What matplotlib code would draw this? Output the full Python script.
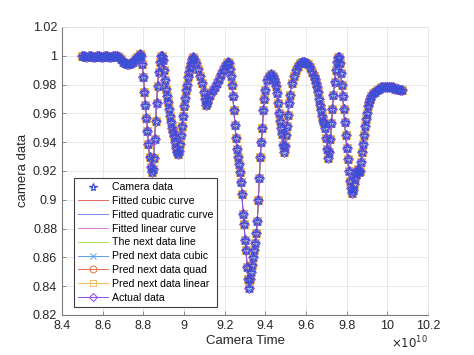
import matplotlib
matplotlib.use("Agg")
import matplotlib.pyplot as plt
from matplotlib.ticker import MultipleLocator, FuncFormatter

plt.rcParams["font.family"] = ["Liberation Sans", "DejaVu Sans"]

# camera time, in units of 1e10
cam_t = [
    8.50, 8.51, 8.52, 8.53, 8.54, 8.55, 8.56, 8.57, 8.58, 8.59,
    8.60, 8.61, 8.62, 8.63, 8.64, 8.65, 8.66, 8.67, 8.68, 8.69,
    8.70, 8.71, 8.72, 8.73, 8.74, 8.75, 8.76, 8.77, 8.78, 8.785,
    8.79, 8.795, 8.80, 8.805, 8.81, 8.815, 8.82, 8.825, 8.83, 8.835,
    8.84, 8.845, 8.85, 8.855, 8.86, 8.865, 8.87, 8.875, 8.88, 8.885,
    8.89, 8.895, 8.90, 8.905, 8.91, 8.915, 8.92, 8.925, 8.93, 8.935,
    8.94, 8.945, 8.95, 8.955, 8.96, 8.965, 8.97, 8.975, 8.98, 8.985,
    8.99, 8.995, 9.00, 9.005, 9.01, 9.015, 9.02, 9.025, 9.03, 9.035,
    9.04, 9.045, 9.05, 9.06, 9.07, 9.08, 9.09, 9.10, 9.105, 9.11,
    9.115, 9.12, 9.13, 9.14, 9.15, 9.16, 9.17, 9.18, 9.19, 9.20,
    9.21, 9.215, 9.22, 9.225, 9.23, 9.235, 9.24, 9.245, 9.25, 9.255,
    9.26, 9.265, 9.27, 9.275, 9.28, 9.285, 9.29, 9.295, 9.30, 9.305,
    9.31, 9.315, 9.32, 9.325, 9.33, 9.335, 9.34, 9.345, 9.35, 9.355,
    9.36, 9.365, 9.37, 9.375, 9.38, 9.385, 9.39, 9.395, 9.40, 9.41,
    9.42, 9.43, 9.435, 9.44, 9.445, 9.45, 9.455, 9.46, 9.465, 9.47,
    9.475, 9.48, 9.485, 9.49, 9.495, 9.50, 9.505, 9.51, 9.515, 9.52,
    9.53, 9.54, 9.55, 9.56, 9.57, 9.58, 9.59, 9.60, 9.61, 9.62,
    9.63, 9.64, 9.645, 9.65, 9.655, 9.66, 9.665, 9.67, 9.675, 9.68,
    9.685, 9.69, 9.695, 9.70, 9.705, 9.71, 9.715, 9.72, 9.725, 9.73,
    9.735, 9.74, 9.745, 9.75, 9.755, 9.76, 9.765, 9.77, 9.775, 9.78,
    9.785, 9.79, 9.795, 9.80, 9.805, 9.81, 9.815, 9.82, 9.825, 9.83,
    9.835, 9.84, 9.845, 9.85, 9.855, 9.86, 9.865, 9.87, 9.875, 9.88,
    9.885, 9.89, 9.895, 9.90, 9.905, 9.91, 9.915, 9.92, 9.93, 9.94,
    9.95, 9.96, 9.97, 9.98, 9.99, 10.00, 10.01, 10.02, 10.03, 10.04,
    10.05, 10.06, 10.07,
]
cam_v = [
    1.000, 1.000, 0.999, 1.000, 1.000, 0.999, 0.999, 1.000, 1.000, 0.999,
    0.999, 1.000, 1.000, 0.999, 0.999, 1.000, 1.000, 1.000, 0.999, 0.998,
    0.996, 0.995, 0.994, 0.994, 0.995, 0.996, 0.998, 0.999, 1.000, 1.001,
    1.000, 0.994, 0.985, 0.975, 0.966, 0.957, 0.948, 0.939, 0.930, 0.923,
    0.919, 0.921, 0.929, 0.942, 0.955, 0.967, 0.979, 0.989, 0.996, 1.000,
    1.000, 0.997, 0.990, 0.983, 0.977, 0.972, 0.968, 0.963, 0.958, 0.954,
    0.950, 0.947, 0.944, 0.940, 0.936, 0.933, 0.932, 0.934, 0.939, 0.945,
    0.951, 0.958, 0.965, 0.971, 0.976, 0.980, 0.985, 0.989, 0.992, 0.995,
    0.998, 0.999, 0.998, 0.995, 0.991, 0.986, 0.981, 0.975, 0.970, 0.966,
    0.967, 0.970, 0.973, 0.976, 0.978, 0.981, 0.984, 0.987, 0.990, 0.993,
    0.995, 0.996, 0.995, 0.991, 0.986, 0.980, 0.972, 0.962, 0.952, 0.943,
    0.935, 0.930, 0.925, 0.919, 0.912, 0.904, 0.890, 0.883, 0.872, 0.865,
    0.853, 0.845, 0.839, 0.845, 0.850, 0.855, 0.860, 0.865, 0.870, 0.877,
    0.885, 0.900, 0.915, 0.930, 0.940, 0.950, 0.962, 0.970, 0.976, 0.983,
    0.986, 0.987, 0.986, 0.984, 0.982, 0.979, 0.974, 0.967, 0.960, 0.955,
    0.950, 0.946, 0.938, 0.933, 0.937, 0.945, 0.951, 0.959, 0.967, 0.973,
    0.981, 0.986, 0.990, 0.993, 0.995, 0.996, 0.996, 0.995, 0.994, 0.992,
    0.989, 0.986, 0.984, 0.981, 0.978, 0.975, 0.970, 0.966, 0.962, 0.958,
    0.955, 0.953, 0.950, 0.943, 0.935, 0.929, 0.933, 0.942, 0.953, 0.963,
    0.973, 0.982, 0.990, 0.996, 0.999, 0.999, 0.995, 0.988, 0.980, 0.972,
    0.963, 0.954, 0.945, 0.936, 0.928, 0.920, 0.913, 0.908, 0.905, 0.907,
    0.911, 0.915, 0.918, 0.920, 0.921, 0.919, 0.920, 0.926, 0.933, 0.939,
    0.945, 0.951, 0.956, 0.960, 0.965, 0.968, 0.970, 0.972, 0.974, 0.975,
    0.976, 0.977, 0.978, 0.978, 0.978, 0.978, 0.978, 0.978, 0.978, 0.977,
    0.977, 0.976, 0.976,
]

fig, ax = plt.subplots(figsize=(4.74, 3.55), dpi=100)
fig.subplots_adjust(left=0.131, right=0.903, top=0.924, bottom=0.113)

lw = 0.7
ms = 5.5
h_cam, = ax.plot(cam_t, cam_v, ls="none", marker="*", ms=ms + 1, mfc="none",
                 mec="#3a4fd6", mew=0.9, label="Camera data", zorder=6)
h_cub, = ax.plot(cam_t, cam_v, color="#e0665a", lw=lw, label="Fitted cubic curve")
h_quad, = ax.plot(cam_t, cam_v, color="#7686e6", lw=lw, label="Fitted quadratic curve")
h_lin, = ax.plot(cam_t, cam_v, color="#e07be0", lw=lw, label="Fitted linear curve")
h_next, = ax.plot(cam_t, cam_v, color="#a8e05a", lw=lw, label="The next data line")
h_pc, = ax.plot(cam_t, cam_v, color="#5c9eea", lw=lw, marker="x", ms=ms,
                mew=0.7, label="Pred next data cubic")
h_pq, = ax.plot(cam_t, cam_v, color="#e2704e", lw=lw, marker="o", ms=ms,
                mfc="none", mew=0.7, label="Pred next data quad")
h_pl, = ax.plot(cam_t, cam_v, color="#f0bc5a", lw=lw, marker="s", ms=ms,
                mfc="none", mew=0.7, label="Pred next data linear")
h_act, = ax.plot(cam_t, cam_v, color="#8c4ee0", lw=lw, marker="D", ms=ms - 0.5,
                 mfc="none", mew=0.7, label="Actual data")

ax.set_xlim(8.4, 10.2)
ax.set_ylim(0.82, 1.02)
ax.xaxis.set_major_locator(MultipleLocator(0.2))
ax.yaxis.set_major_locator(MultipleLocator(0.02))
fmt = FuncFormatter(lambda v, p: f"{v:g}")
ax.xaxis.set_major_formatter(fmt)
ax.yaxis.set_major_formatter(fmt)
ax.grid(True, color="#e4e4e4", lw=0.6)
ax.set_axisbelow(True)
for side in ["left", "bottom"]:
    ax.spines[side].set_color("#7a7a7a")
    ax.spines[side].set_linewidth(0.8)
for side in ["top", "right"]:
    ax.spines[side].set_color("#e4e4e4")
    ax.spines[side].set_linewidth(0.6)
ax.tick_params(direction="in", length=3, width=0.6, color="#7a7a7a",
               labelsize=9, labelcolor="#262626", top=False, right=False)
ax.set_xlabel("Camera Time", fontsize=9.5, color="#262626", labelpad=2)
ax.set_ylabel("camera data", fontsize=9.5, color="#262626", labelpad=3)
ax.text(1.0, -0.128, r"$\times10^{10}$", transform=ax.transAxes, ha="right",
        va="bottom", fontsize=8.5, color="#262626")

leg = ax.legend(handles=[h_cam, h_cub, h_quad, h_lin, h_next, h_pc, h_pq, h_pl, h_act],
                loc="lower left", bbox_to_anchor=(0.033, 0.028), borderaxespad=0,
                fontsize=7.6, fancybox=False, framealpha=1, edgecolor="#404040",
                handlelength=2.8, handletextpad=0.35, labelspacing=0.36,
                borderpad=0.4, markerscale=0.9)
leg.get_frame().set_linewidth(0.8)
leg.set_zorder(10)

fig.savefig("out.png", dpi=100)
